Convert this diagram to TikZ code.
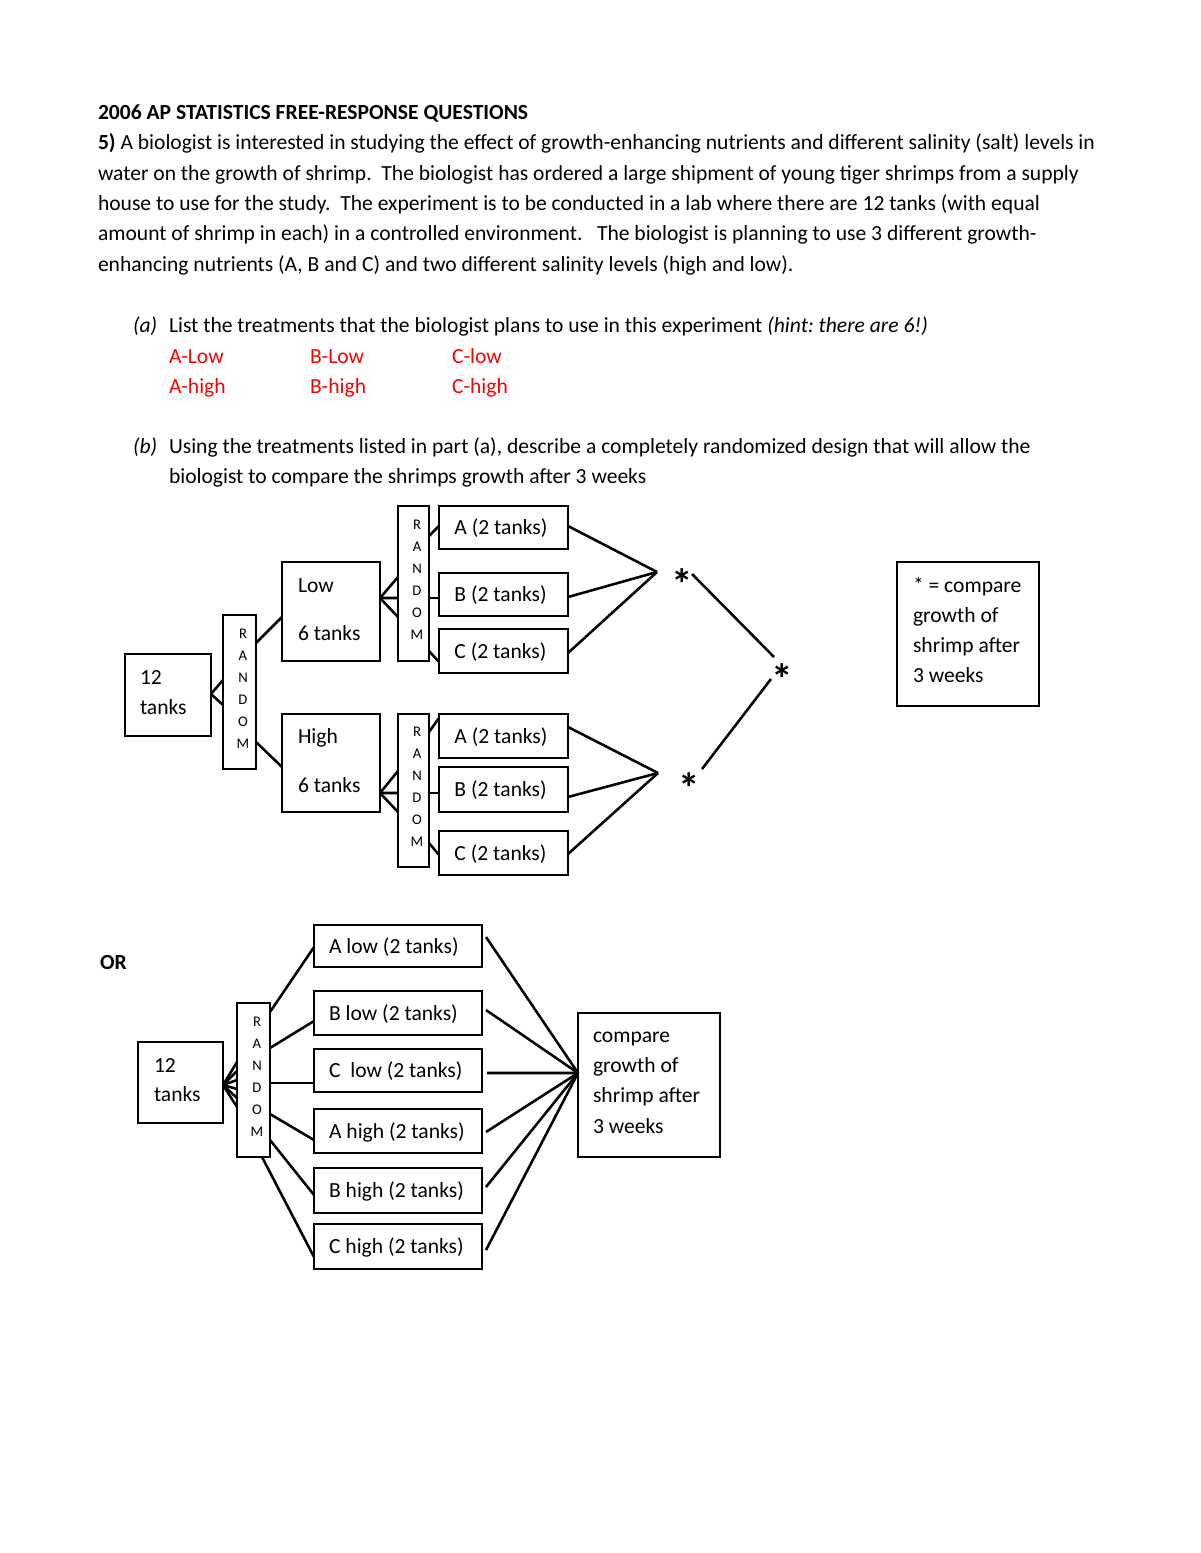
\documentclass[tikz,border=0pt]{standalone}
\usepackage{fontspec}
\setmainfont{Carlito}
\usetikzlibrary{calc}
\frenchspacing
\begin{document}
\begin{tikzpicture}[x=0.51pt,y=-0.51pt,
  every node/.style={inner sep=0pt, outer sep=0pt},
  txt/.style={anchor=base west, font=\fontsize{11}{13}\selectfont},
  sz/.style 2 args={minimum width={#1*0.51pt}, minimum height={#2*0.51pt}},
  box/.style={draw, line width=1.5pt},
  rbox/.style={draw, line width=1.1pt},
  rtxt/.style={align=center, font=\fontsize{7.5}{11.22}\selectfont},
  conn/.style={line width=1.3pt},
  star/.style={anchor=base, font=\fontsize{22}{22}\selectfont\bfseries}]
\useasboundingbox (0,0) rectangle (1200,1553);

% ---------- header text ----------
\node[txt, font=\fontsize{11}{13}\selectfont\bfseries] (title) at (98,120) {2006 AP STATISTICS FREE-RESPONSE QUESTIONS};
\node[txt] (p1) at (98,150) {\textbf{5)} A biologist is interested in studying the effect of growth-enhancing nutrients and different salinity (salt) levels in};
\node[txt] (p2) at (98,180.5) {water on the growth of shrimp.\ \ The biologist has ordered a large shipment of young tiger shrimps from a supply};
\node[txt] (p3) at (98,211) {house to use for the study.\ \ The experiment is to be conducted in a lab where there are 12 tanks (with equal};
\node[txt] (p4) at (98,241) {amount of shrimp in each) in a controlled environment.\ \ \ The biologist is planning to use 3 different growth-};
\node[txt] (p5) at (98,271.5) {enhancing nutrients (A, B and C) and two different salinity levels (high and low).};

\node[txt] (qa) at (133,332) {\itshape (a)};
\node[txt] (qat) at (169,332) {List the treatments that the biologist plans to use in this experiment \textit{(hint: there are 6!)}};
\node[txt, text=red] (t1) at (169,363) {A-Low};
\node[txt, text=red] (t2) at (310,363) {B-Low};
\node[txt, text=red] (t3) at (452,363) {C-low};
\node[txt, text=red] (t4) at (169,393) {A-high};
\node[txt, text=red] (t5) at (310,393) {B-high};
\node[txt, text=red] (t6) at (452,393) {C-high};

\node[txt] (qb) at (133,453) {\itshape (b)};
\node[txt] (qbt1) at (169,453) {Using the treatments listed in part (a), describe a completely randomized design that will allow the};
\node[txt] (qbt2) at (169,483) {biologist to compare the shrimps growth after 3 weeks};

% ---------- first design ----------
\node[box, sz={86}{82}] (t12) at (168,695) {};
\node[txt] (t12a) at (140,684) {12};
\node[txt] (t12b) at (140,714) {tanks};

\node[rbox, sz={33}{154}] (r1) at (239.5,692) {};
\node[rtxt] (r1t) at (243,688.5) {R\\A\\N\\D\\O\\M};

\node[box, sz={98}{99}] (low) at (331,611.5) {};
\node[txt] (lowa) at (298,592) {Low};
\node[txt] (lowb) at (298,640) {6 tanks};
\node[box, sz={98}{98}] (high) at (331,763) {};
\node[txt] (higha) at (298,743) {High};
\node[txt] (highb) at (298,792) {6 tanks};

\node[rbox, sz={31}{155}] (r2) at (413.5,583.5) {};
\node[rtxt] (r2t) at (417,580) {R\\A\\N\\D\\O\\M};
\node[rbox, sz={31}{153}] (r3) at (413.5,790.5) {};
\node[rtxt] (r3t) at (417,787) {R\\A\\N\\D\\O\\M};

\node[box, sz={129}{43}] (a1) at (503.5,527.5) {};
\node[txt, anchor=west] (a1t) at ([xshift=7.9pt,yshift=-0.5pt]a1.west) {A (2 tanks)};
\node[box, sz={129}{43}] (b1) at (503.5,594.5) {};
\node[txt, anchor=west] (b1t) at ([xshift=7.9pt,yshift=-0.5pt]b1.west) {B (2 tanks)};
\node[box, sz={129}{44}] (c1) at (503.5,651) {};
\node[txt, anchor=west] (c1t) at ([xshift=7.9pt,yshift=-0.5pt]c1.west) {C (2 tanks)};
\node[box, sz={129}{44}] (a2) at (503.5,736) {};
\node[txt, anchor=west] (a2t) at ([xshift=7.9pt,yshift=-0.5pt]a2.west) {A (2 tanks)};
\node[box, sz={129}{45}] (b2) at (503.5,789.5) {};
\node[txt, anchor=west] (b2t) at ([xshift=7.9pt,yshift=-0.5pt]b2.west) {B (2 tanks)};
\node[box, sz={129}{44}] (c2) at (503.5,853) {};
\node[txt, anchor=west] (c2t) at ([xshift=7.9pt,yshift=-0.5pt]c2.west) {C (2 tanks)};

\node[box, sz={142}{144}] (leg) at (968,634) {};
\node[txt] (leg1) at (913,592) {* = compare};
\node[txt] (leg2) at (913,622) {growth of};
\node[txt] (leg3) at (913,652) {shrimp after};
\node[txt] (leg4) at (913,682) {3 weeks};

\node[star] (s1) at (682,599) {*};
\node[star] (s2) at (782,694) {*};
\node[star] (s3) at (689,803) {*};

\coordinate (ap1) at (657,572);
\coordinate (ap2) at (658,773);
\coordinate (sa) at (692,574);
\coordinate (sb) at (774,657);
\coordinate (sc) at (771,679);
\coordinate (sd) at (702,769);

\draw[conn] ($(t12.east)+(0,-1)$) -- ($(r1.west)+(0,-12)$);
\draw[conn] ($(t12.east)+(0,-1)$) -- ($(r1.west)+(0,13)$);
\draw[conn] ($(r1.east)+(0,-49)$) -- ($(low.west)+(0,5.5)$);
\draw[conn] ($(r1.east)+(0,50)$) -- ($(high.west)+(0,4)$);

\draw[conn] ($(low.east)+(0,-13.5)$) -- ($(r2.west)+(0,-6.5)$);
\draw[conn] ($(low.east)+(0,-13.5)$) -- ($(r2.west)+(0,14.5)$);
\draw[conn] ($(low.east)+(0,-13.5)$) -- ($(r2.west)+(0,33.5)$);
\draw[conn] ($(high.east)+(0,30)$) -- ($(r3.west)+(0,-19.5)$);
\draw[conn] ($(high.east)+(0,30)$) -- ($(r3.west)+(0,2.5)$);
\draw[conn] ($(high.east)+(0,30)$) -- ($(r3.west)+(0,21.5)$);

\draw[conn] ($(r2.east)+(0,-47.5)$) -- ($(a1.west)+(0,-1.5)$);
\draw[conn] ($(r2.east)+(0,14.5)$) -- ($(b1.west)+(0,3.5)$);
\draw[conn] ($(r2.east)+(0,67.5)$) -- ($(c1.west)+(0,11)$);
\draw[conn] ($(r3.east)+(0,-58.5)$) -- ($(a2.west)+(0,-18)$);
\draw[conn] ($(r3.east)+(0,2.5)$) -- ($(b2.west)+(0,3.5)$);
\draw[conn] ($(r3.east)+(0,52.5)$) -- ($(c2.west)+(0,2)$);

\draw[conn] ($(a1.east)+(0,-1.5)$) -- (ap1);
\draw[conn] ($(b1.east)+(0,2.5)$) -- (ap1);
\draw[conn] ($(c1.east)+(0,2)$) -- (ap1);
\draw[conn] ($(a2.east)+(0,-9)$) -- (ap2);
\draw[conn] ($(b2.east)+(0,7.5)$) -- (ap2);
\draw[conn] ($(c2.east)+(0,1)$) -- (ap2);
\draw[conn] (sa) -- (sb);
\draw[conn] (sc) -- (sd);

% ---------- second design ----------
\node[txt, font=\fontsize{11}{13}\selectfont\bfseries] (or) at (100,969) {OR};

\node[box, sz={85}{81}] (t12b) at (180.5,1082.5) {};
\node[txt] (t12ba) at (154,1072) {12};
\node[txt] (t12bb) at (154,1101) {tanks};

\node[rbox, sz={33}{154}] (rb) at (253.5,1080) {};
\node[rtxt] (rbt) at (257,1076.5) {R\\A\\N\\D\\O\\M};

\node[box, sz={168}{42}] (al) at (398,946) {};
\node[txt, anchor=west] (alt) at ([xshift=7.7pt,yshift=-0.5pt]al.west) {A low (2 tanks)};
\node[box, sz={168}{44}] (bl) at (398,1013) {};
\node[txt, anchor=west] (blt) at ([xshift=7.7pt,yshift=-0.5pt]bl.west) {B low (2 tanks)};
\node[box, sz={168}{43}] (cl) at (398,1070.5) {};
\node[txt, anchor=west] (clt) at ([xshift=7.7pt,yshift=-0.5pt]cl.west) {C\ \ low (2 tanks)};
\node[box, sz={168}{44}] (ah) at (398,1131) {};
\node[txt, anchor=west] (aht) at ([xshift=7.7pt,yshift=-0.5pt]ah.west) {A high (2 tanks)};
\node[box, sz={168}{45}] (bh) at (398,1190.5) {};
\node[txt, anchor=west] (bht) at ([xshift=7.7pt,yshift=-0.5pt]bh.west) {B high (2 tanks)};
\node[box, sz={168}{45}] (ch) at (398,1246.5) {};
\node[txt, anchor=west] (cht) at ([xshift=7.7pt,yshift=-0.5pt]ch.west) {C high (2 tanks)};

\node[box, sz={142}{144}] (cmp) at (649,1085) {};
\node[txt] (cmp1) at (593,1042) {compare};
\node[txt] (cmp2) at (593,1072) {growth of};
\node[txt] (cmp3) at (593,1102.5) {shrimp after};
\node[txt] (cmp4) at (593,1133) {3 weeks};

\foreach \o in {-18,-9,0,9,18,27}
  \draw[conn] ($(t12b.east)+(0,2.5)$) -- ($(rb.west)+(0,\o)$);

\draw[conn] ($(rb.east)+(0,-68)$) -- ($(al.west)+(0,1)$);
\draw[conn] ($(rb.east)+(0,-32)$) -- ($(bl.west)+(0,8)$);
\draw[line width=1pt] ($(rb.east)+(0,3)$) -- ($(cl.west)+(0,12.5)$);
\draw[conn] ($(rb.east)+(0,34)$) -- ($(ah.west)+(0,9)$);
\draw[conn] ($(rb.east)+(0,60)$) -- ($(bh.west)+(0,4.5)$);
\draw[conn] ($(rb.south)+(8.5,0)$) -- ($(ch.west)+(0,10.5)$);

\coordinate (ap3) at ($(cmp.west)+(0,-12)$);
\draw[conn] ($(al.east)+(4,-9)$) -- (ap3);
\draw[conn] ($(bl.east)+(4,-3)$) -- (ap3);
\draw[conn] ($(cl.east)+(5,2.5)$) -- (ap3);
\draw[conn] ($(ah.east)+(4,1)$) -- (ap3);
\draw[conn] ($(bh.east)+(4,-3.5)$) -- (ap3);
\draw[conn] ($(ch.east)+(4,3.5)$) -- (ap3);
\end{tikzpicture}
\end{document}
